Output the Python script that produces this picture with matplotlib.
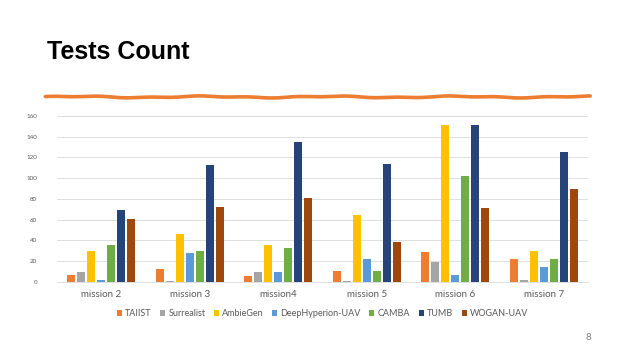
import numpy as np
import matplotlib
matplotlib.use("Agg")
import matplotlib.pyplot as plt
from matplotlib.lines import Line2D

missions = ["mission 2", "mission 3", "mission4", "mission 5", "mission 6", "mission 7"]
tools = ["TAIIST", "Surrealist", "AmbieGen", "DeepHyperion-UAV", "CAMBA", "TUMB", "WOGAN-UAV"]

taiist = [7, 13, 6, 11, 29, 22]
surrealist = [10, 1, 10, 1, 19, 2]
ambiegen = [30, 46, 36, 65, 151, 30]
deephyperion = [2, 28, 10, 22, 7, 14]
camba = [36, 30, 33, 11, 102, 22]
tumb = [69, 113, 135, 114, 151, 125]
wogan = [61, 72, 81, 39, 71, 90]

colors = ["#ED7D31", "#A5A5A5", "#FFC000", "#5B9BD5", "#70AD47", "#264478", "#9E480E"]

plt.rcParams['font.family'] = ['Lato', 'DejaVu Sans']

fig = plt.figure(figsize=(6.38, 3.59), dpi=100)
ax = fig.add_axes([0.089, 0.2145, 0.833, 0.4625])

series = [taiist, surrealist, ambiegen, deephyperion, camba, tumb, wogan]
x = np.arange(len(missions))
slot = 0.113
bw = 0.09
for i, (vals, name) in enumerate(zip(series, tools)):
    ax.bar(x + (i - 3) * slot, vals, width=bw, color=colors[i], label=name, zorder=3)

ax.set_xlim(-0.5, len(missions) - 0.5)
ax.set_ylim(0, 160)
ax.set_yticks(range(0, 161, 20))
ax.set_xticks(x)
ax.set_xticklabels(missions, fontsize=7, color="#595959")
ax.tick_params(axis='y', labelsize=4.5, colors="#595959", length=0, pad=14)
ax.tick_params(axis='x', length=0, pad=6)
ax.grid(axis='y', color="#D9D9D9", linewidth=0.6, zorder=0)
for s in ["top", "right", "left"]:
    ax.spines[s].set_visible(False)
ax.spines["bottom"].set_color("#D9D9D9")
ax.spines["bottom"].set_linewidth(0.6)

ax.legend(loc="upper center", bbox_to_anchor=(0.5, -0.115), ncol=7, frameon=False,
          fontsize=6.5, handlelength=0.55, handleheight=0.55, handletextpad=0.35,
          columnspacing=0.95, labelcolor="#595959")

fig.text(0.074, 0.855, "Tests Count", fontsize=18, fontweight="bold",
         family=["Liberation Sans Narrow", "Liberation Sans", "DejaVu Sans"], va="center")

# wavy orange underline
t = np.linspace(0, 1, 300)
wx = 0.071 + t * (0.925 - 0.071)
wy = 0.730 + 0.0018 * np.sin(t * 2 * np.pi * 4.3) + 0.0012 * np.sin(t * 2 * np.pi * 11 + 1)
fig.add_artist(Line2D(wx, wy, color="#ED7D31", linewidth=2.6, solid_capstyle="round",
                      transform=fig.transFigure))

fig.text(0.922, 0.052, "8", fontsize=7, color="#7F7F7F", ha="center")

fig.savefig("out.png", dpi=100)
